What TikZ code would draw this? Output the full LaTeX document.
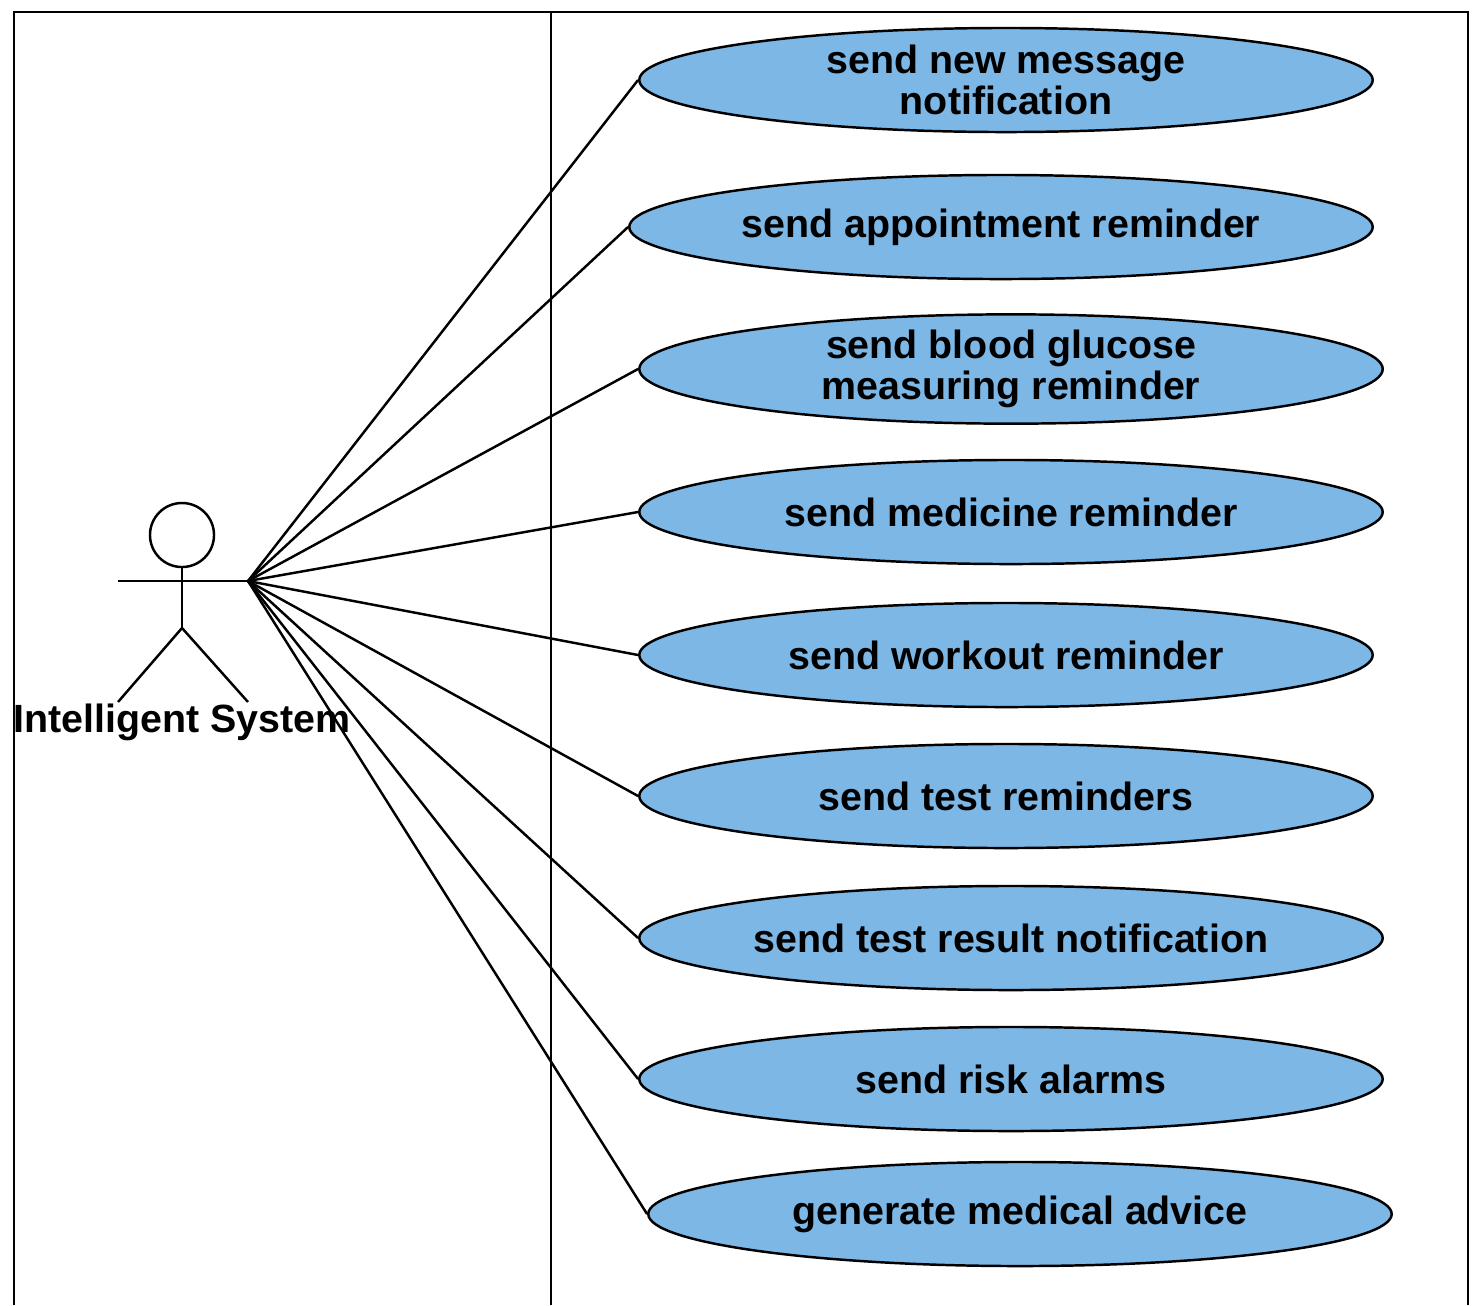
\documentclass[tikz,border=0pt]{standalone}
\usepackage{fontspec}
\setmainfont{Liberation Sans}
\usetikzlibrary{shapes.geometric}
\definecolor{ucblue}{RGB}{125,183,230}
\begin{document}
\begin{tikzpicture}[x=0.01cm,y=-0.01cm,line width=0.7pt,
    uc/.style={ellipse,draw,fill=ucblue,inner sep=0pt,minimum height=1.04cm,font=\fontsize{11.2}{10}\selectfont\bfseries,align=center},
    lbl/.style={font=\fontsize{11.2}{12.5}\selectfont\bfseries}]
\useasboundingbox (0,0) rectangle (1472,1305);
\draw (14,1305) -- (14,12) -- (1468,12) -- (1468,1305);
\draw (551,12) -- (551,1305);
% actor
\draw (182,535) circle (0.32cm);
\draw (118,581) -- (248,581);
\draw (182,567) -- (182,628);
\draw (118,702) -- (182,628) -- (248,702);
\coordinate (act) at (248,581);
\node[lbl] (name) at (182,722) {Intelligent System};
% use cases
\node[uc,minimum width=7.33cm] (u1) at (1006,80) {send new message\\notification};
\node[uc,minimum width=7.43cm] (u2) at (1001,227) {send appointment reminder};
\node[uc,minimum width=7.43cm] (u3) at (1011,369) {send blood glucose\\measuring reminder};
\node[uc,minimum width=7.43cm] (u4) at (1011,512) {send medicine reminder};
\node[uc,minimum width=7.33cm] (u5) at (1006,655) {send workout reminder};
\node[uc,minimum width=7.33cm] (u6) at (1006,796) {send test reminders};
\node[uc,minimum width=7.43cm] (u7) at (1011,938) {send test result notification};
\node[uc,minimum width=7.43cm] (u8) at (1011,1079) {send risk alarms};
\node[uc,minimum width=7.43cm] (u9) at (1020,1214) {generate medical advice};
\foreach \u in {u1,u2,u3,u4,u5,u6,u7,u8,u9}
  \draw (act) -- (\u.west);
\end{tikzpicture}
\end{document}
